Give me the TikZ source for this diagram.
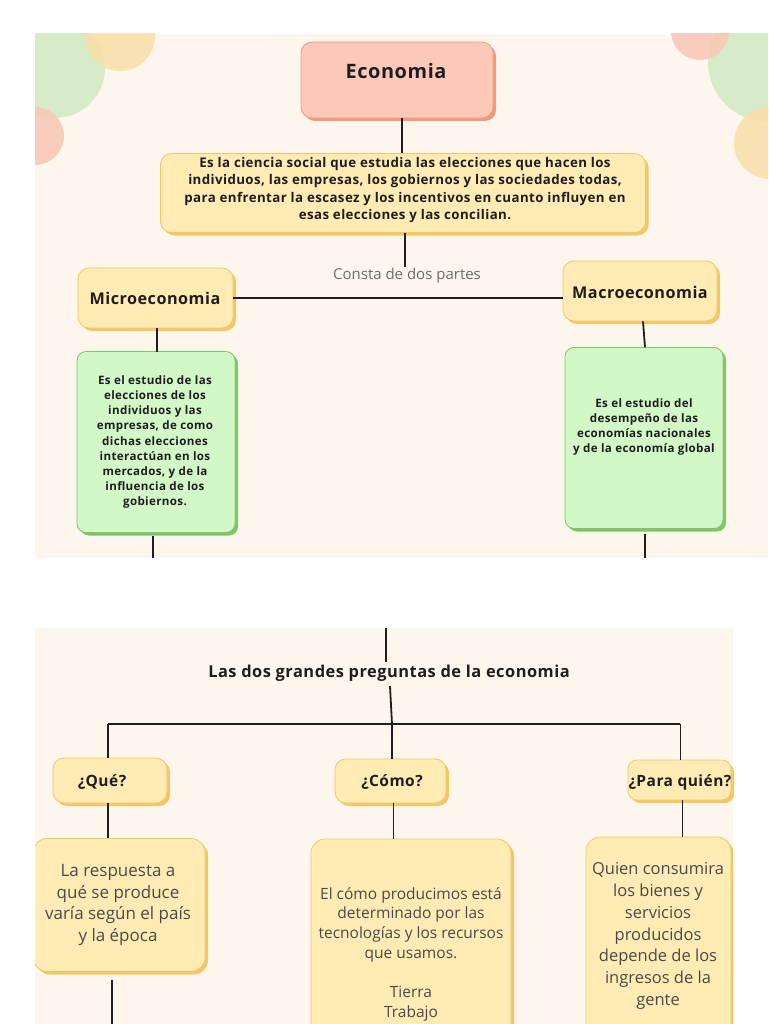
\documentclass[tikz,border=0pt]{standalone}
\usepackage{fontspec}
\setmainfont{Open Sans}
\newfontfamily\bfam{Open Sans}[LetterSpace=3]
\usetikzlibrary{shadows}
\definecolor{panel}{HTML}{FDF6EC}
\definecolor{pinkF}{HTML}{FCC8B7}
\definecolor{pinkD}{HTML}{F09A82}
\definecolor{yelF}{HTML}{FFEBB3}
\definecolor{yelD}{HTML}{F3C768}
\definecolor{grnF}{HTML}{D2F8C8}
\definecolor{grnD}{HTML}{80C46E}
\definecolor{cGreen}{HTML}{D3EAC6}
\definecolor{cYel}{HTML}{F8DFA8}
\definecolor{cPink}{HTML}{F9C6B5}
\definecolor{ink}{HTML}{1E1E1E}
\definecolor{soft}{HTML}{4A4A4A}
\tikzset{
  x=1pt, y=-1pt,
  cbox/.style={draw=#1D, fill=#1F, line width=0.8pt, rounded corners=11pt, inner sep=0pt,
    copy shadow={shadow xshift=3pt, shadow yshift=-3pt, fill=#1D, draw=none}},
  conn/.style={draw=ink, line width=1.8pt},
  btxt/.style={text=ink, align=center, inner sep=0pt},
  ltxt/.style={text=soft, align=center, inner sep=0pt},
}
\newcommand\bsz[2]{\bfam\bfseries\fontsize{#1}{#2}\selectfont}
\begin{document}
\begin{tikzpicture}
\useasboundingbox (0,0) rectangle (768,1024);
\fill[white] (0,0) rectangle (768,1024);
% panels
\fill[panel] (35,34) rectangle (768,558);
\fill[panel] (35,628) rectangle (733,1024);
\begin{scope}
\clip (35,34) rectangle (768,558);
\fill[cGreen, opacity=0.9] (55,68) circle (50);
\fill[cYel, opacity=0.85] (120,36) circle (35);
\fill[cPink, opacity=0.85] (35,136) circle (29);
\fill[cGreen, opacity=0.9] (768,62) circle (60);
\fill[cPink, opacity=0.85] (700,31) circle (29);
\fill[cYel, opacity=0.85] (770,143) circle (36);
\end{scope}

% top part
\node[cbox=pink, minimum width=192pt, minimum height=76pt] (eco) at (397,80) {};
\node[btxt, font=\bsz{19.9}{23}] (ecoT) at (396,71) {Economia};
\node[cbox=yel, minimum width=485pt, minimum height=79pt] (def) at (403,193) {};
\node[btxt, font=\bsz{13.3}{17.6}] (defT) at (405,190)
  {Es la ciencia social que estudia las elecciones que hacen los\\
   individuos, las empresas, los gobiernos y las sociedades todas,\\
   para enfrentar la escasez y los incentivos en cuanto influyen en\\
   esas elecciones y las concilian.};
\node[ltxt, text=gray!85!black, font=\fontsize{15}{18}\selectfont] (consta) at (407,276) {Consta de dos partes};
\coordinate (constaTop) at (405,267);

\node[cbox=yel, minimum width=155pt, minimum height=60pt] (micro) at (155.5,298) {};
\node[btxt, font=\bsz{16.2}{19}] (microT) at (155,298) {Microeconomia};
\node[cbox=yel, minimum width=154pt, minimum height=60pt] (macro) at (640,291) {};
\node[btxt, font=\bsz{16.2}{19}] (macroT) at (640,292) {Macroeconomia};

\node[cbox=grn, minimum width=158pt, minimum height=181pt, rounded corners=9pt] (microD) at (156,442) {};
\node[btxt, font=\bsz{11.6}{15.1}] (microDT) at (155,442)
  {Es el estudio de las\\ elecciones de los\\ individuos y las\\ empresas, de como\\ dichas elecciones\\ interactúan en los\\ mercados, y de la\\ influencia de los\\ gobiernos.};
\node[cbox=grn, minimum width=158pt, minimum height=181pt, rounded corners=9pt] (macroD) at (644,438) {};
\node[btxt, font=\bsz{11.6}{15.1}] (macroDT) at (644,427)
  {Es el estudio del\\ desempeño de las\\ economías nacionales\\ y de la economía global};

\coordinate (microEnd) at (153,558);
\coordinate (macroEnd) at (645,558);

\draw[conn] (eco.south -| ecoT) +(6,0) coordinate (a1) (a1) -- (a1 |- def.north);
\draw[conn] (def.south -| consta) +(-2,0) coordinate (a2) (a2) -- (constaTop);
\draw[conn] (micro.east) -- (micro.east -| macro.west);
\draw[conn] (micro.south) ++(1.5,0) -- ++(0,24);
\draw[conn] (macro.south) ++(3,0) -- ([xshift=1pt]macroD.north);
\draw[conn] ([xshift=-3pt,yshift=-3pt]microD.south) -- (microEnd);
\draw[conn] ([xshift=1pt,yshift=-5pt]macroD.south) -- (macroEnd);

% bottom part
\node[btxt, font=\bsz{16.4}{19}] (title) at (389,673) {Las dos grandes preguntas de la economia};
\coordinate (topIn) at (386,628);
\coordinate (hub) at (392,724);
\draw[conn] (topIn) -- (386,662);
\draw[conn] (390,686) -- (hub);

\node[cbox=yel, minimum width=114pt, minimum height=45pt] (que) at (110,780.5) {};
\node[btxt, font=\bsz{15.5}{18}] (queT) at (102,782) {¿Qué?};
\node[cbox=yel, minimum width=111pt, minimum height=44pt] (como) at (390.5,781) {};
\node[btxt, font=\bsz{15.5}{18}] (comoT) at (392,782) {¿Cómo?};
\node[cbox=yel, minimum width=103pt, minimum height=40pt, rounded corners=9pt] (para) at (679.5,780) {};
\node[btxt, font=\bsz{15.5}{18}] (paraT) at (680,782) {¿Para quién?};

\draw[conn] (hub -| que.north) ++(-2,0) coordinate (h1) (h1) -- (hub) -- (hub -| para.north) ++(1,0) coordinate (h3);
\draw[conn] (h1) -- (h1 |- que.north);
\draw[conn] (hub) -- (hub |- como.north);
\draw[conn] (h3) -- (h3 |- para.north);

\begin{scope}
\clip (35,628) rectangle (733,1024);
\node[cbox=yel, minimum width=172pt, minimum height=133pt, rounded corners=14pt] (queA) at (119,905) {};
\node[ltxt, font=\fontsize{17}{21.8}\selectfont] (queAT) at (118,905)
  {La respuesta a\\ qué se produce\\ varía según el país\\ y la época};
\node[cbox=yel, minimum width=200pt, minimum height=240pt, rounded corners=14pt] (comoA) at (411,959) {};
\node[ltxt, font=\fontsize{15.5}{19.7}\selectfont, anchor=north] (comoAT) at (411,887)
  {El cómo producimos está\\ determinado por las\\ tecnologías y los recursos\\ que usamos.\\[19.7pt] Tierra\\ Trabajo};
\node[cbox=yel, minimum width=145pt, minimum height=240pt, rounded corners=14pt] (paraA) at (658.5,957) {};
\node[ltxt, font=\fontsize{16.5}{21.9}\selectfont, anchor=north] (paraAT) at (658,862)
  {Quien consumira\\ los bienes y\\ servicios\\ producidos\\ depende de los\\ ingresos de la\\ gente};
\end{scope}

\draw[conn] (que.south -| h1) -- (queA.north -| h1);
\draw[conn] (como.south) ++(3,0) coordinate (c1) (c1) -- (c1 |- comoA.north);
\draw[conn] (para.south) ++(3,0) coordinate (p1) (p1) -- (p1 |- paraA.north);
\coordinate (queEnd) at (112,1024);
\draw[conn] ([yshift=-8pt]queA.south -| queEnd) -- (queEnd);
\end{tikzpicture}
\end{document}
